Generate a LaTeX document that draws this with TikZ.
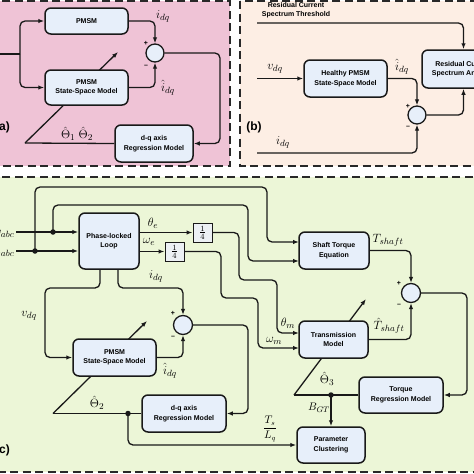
\documentclass[tikz,border=0pt]{standalone}
\usepackage{fontspec}
\setsansfont{Liberation Sans}
\usetikzlibrary{arrows.meta}
\definecolor{pinkbg}{RGB}{239,195,214}
\definecolor{peachbg}{RGB}{253,238,228}
\definecolor{greenbg}{RGB}{236,246,215}
\definecolor{boxblue}{RGB}{231,239,250}
\definecolor{gainfill}{RGB}{236,240,244}
\definecolor{ink}{RGB}{25,25,25}
\definecolor{dashink}{RGB}{40,40,40}
\begin{document}
\begin{tikzpicture}[x=1pt,y=-1pt,
  blk/.style={draw=ink, line width=1.5pt, rounded corners=6pt, fill=boxblue, align=center,
     font=\fontsize{7}{9.5}\selectfont\bfseries\sffamily, inner sep=1pt},
  gain/.style={draw=ink, line width=1pt, fill=gainfill, minimum width=19pt, minimum height=19pt, inner sep=0pt, font=\fontsize{11}{12}\selectfont},
  sumc/.style={circle, draw=ink, line width=1.3pt, fill=boxblue, minimum size=18pt, inner sep=0pt},
  wire/.style={draw=ink, line width=1.3pt, rounded corners=5pt},
  arr/.style={wire, -{Latex[length=6pt,width=4.5pt]}},
  lab/.style={font=\fontsize{12.5}{14}\selectfont, inner sep=0pt},
  sgn/.style={font=\fontsize{7}{8}\selectfont\bfseries\sffamily, inner sep=0pt},
  txt/.style={font=\fontsize{7}{9}\selectfont\bfseries\sffamily, align=center, inner sep=0pt},
  panel/.style={line width=2.4pt, draw=dashink, dash pattern=on 8pt off 4.5pt},
  dotn/.style={circle, fill=ink, minimum size=5.5pt, inner sep=0pt},
  tag/.style={font=\fontsize{12}{14}\selectfont\bfseries\sffamily, inner sep=0pt}
]
\useasboundingbox (0,0) rectangle (474,474);
\fill[white] (0,0) rectangle (474,474);
% ---------------- panels
\filldraw[panel, fill=pinkbg] (-20,1) rectangle (230,166);
\filldraw[panel, fill=peachbg] (240,1) rectangle (500,166);
\filldraw[panel, fill=greenbg] (-20,177) rectangle (500,472);

% ================= panel (a)
\coordinate (diagA0) at (25,143);
\coordinate (diagA1) at (118,52);
\draw[arr, rounded corners=0pt] (diagA0) -- (diagA1);
\node[blk, minimum width=83pt, minimum height=26pt] (pmsmA) at (86.5,21) {PMSM};
\node[blk, minimum width=83pt, minimum height=35pt] (ssA) at (86.5,87.5) {PMSM\\State-Space Model};
\node[sumc] (sumA) at (155,53) {};
\node[blk, minimum width=78pt, minimum height=37pt] (regA) at (154,143.5) {d-q axis\\Regression Model};
\coordinate (inA) at (-2,54);
\coordinate (splitA) at (20,54);
\draw[wire] (inA) -- (splitA);
\draw[arr] (splitA) |- (pmsmA.west);
\draw[arr] (splitA) |- (ssA.west);
\draw[arr] (pmsmA.east) -| (sumA.north);
\draw[arr] (ssA.east) -| (sumA.south);
\draw[arr] (sumA.east) -| (220,143.5) -- (regA.east);
\draw[wire] (regA.west) -- (diagA0);
\node[lab] (laA1) at (163,16) {$i_{dq}$};
\node[lab] (laA2) at (168,88) {$\hat{i}_{dq}$};
\node[sgn] (pA) at (146,43) {+};
\node[sgn] (mA) at (146,66) {--};
\node[lab] (laA3) at (77,134) {$\hat{\Theta}_1\;\hat{\Theta}_2$};
\node[tag, anchor=east] (tagA) at (10,127) {(a)};

% ================= panel (b)
\node[txt] (thr) at (296,10) {Residual Current\\Spectrum Threshold};
\coordinate (thrIn) at (257,23);
\node[blk, minimum width=83pt, minimum height=38pt] (anaB) at (463.5,69) {Residual Current\\Spectrum Analysis};
\node[blk, minimum width=83pt, minimum height=37pt] (hB) at (345.5,78.5) {Healthy PMSM\\State-Space Model};
\node[sumc] (sumB) at (417,115) {};
\coordinate (vB) at (257,78.5);
\coordinate (iB) at (257,153);
\draw[arr] (thrIn) -| (anaB.north);
\draw[arr] (vB) -- (hB.west);
\draw[arr] (hB.east) -| (sumB.north);
\draw[arr] (iB) -| (sumB.south);
\draw[arr] (sumB.east) -| (anaB.south);
\node[lab] (lbB1) at (275,69) {$v_{dq}$};
\node[lab] (lbB2) at (402,67) {$\hat{i}_{dq}$};
\node[lab] (lbB3) at (283,142) {$i_{dq}$};
\node[sgn] (pB) at (408,106) {+};
\node[sgn] (mB) at (408,127) {--};
\node[tag] (tagB) at (254,127) {(b)};

% ================= panel (c)
\coordinate (diagC0) at (53,413.5);
\coordinate (diagC1) at (147,321);
\draw[arr, rounded corners=0pt] (diagC0) -- (diagC1);
\coordinate (diagR0) at (294,395);
\coordinate (diagR1) at (366,299);
\draw[arr, rounded corners=0pt] (diagR0) -- (diagR1);

\node[blk, minimum width=60pt, minimum height=56pt] (pll) at (109,241) {Phase-locked\\Loop};
\node[gain] (g1) at (202.5,232.5) {$\frac{1}{4}$};
\node[gain] (g2) at (174.5,251.5) {$\frac{1}{4}$};
\node[blk, minimum width=70pt, minimum height=37pt] (shaft) at (334,250.5) {Shaft Torque\\Equation};
\node[sumc, minimum size=19pt] (sumR) at (411,293) {};
\node[sumc, minimum size=19pt] (sumL) at (183,325) {};
\node[blk, minimum width=69pt, minimum height=37pt] (tr) at (333.5,339.5) {Transmission\\Model};
\node[blk, minimum width=84pt, minimum height=36pt] (tq) at (401,395) {Torque\\Regression Model};
\node[blk, minimum width=83pt, minimum height=37pt] (ssC) at (114.5,357.5) {PMSM\\State-Space Model};
\node[blk, minimum width=84pt, minimum height=37pt] (rgC) at (184,413.5) {d-q axis\\Regression Model};
\node[blk, minimum width=68pt, minimum height=36pt] (pc) at (331,445) {Parameter\\Clustering};

\coordinate (in1) at (16,232);
\coordinate (in2) at (16,251);
\coordinate (sh1) at (299,242);
\coordinate (sh2) at (299,261);
\coordinate (tr1) at (299,333);
\coordinate (tr2) at (299,348);
\coordinate (pllv) at (100,269);
\coordinate (plli) at (118,269);
\node[dotn] (d1) at (53,232) {};
\node[dotn] (d2) at (35,251) {};
\node[dotn] (dA) at (128,413.5) {};
\node[dotn] (dB) at (331,395) {};

\draw[arr] (in1) -- (pll.west |- in1);
\draw[arr] (in2) -- (pll.west |- in2);
\draw[arr] (d2.center) |- (267,187) |- (sh1);
\draw[arr] (d1.center) |- (248,205) |- (sh2);
\draw[arr] (pll.east |- g1.west) -- (g1.west);
\draw[arr] (pll.east |- g2.west) -- (g2.west);
\draw[arr] (g1.east) -| (239,280) -| (277,333) -- (tr1);
\draw[arr] (g2.east) -| (221,298) -| (258,348) -- (tr2);
\draw[arr] (shaft.east) -| (sumR.north);
\draw[arr] (tr.east) -| (sumR.south);
\draw[arr] (sumR.east) -| (467,395) -- (tq.east);
\draw[wire] (tq.west) -- (diagR0);
\draw[arr] (dB.center) -- (pc.north);
\draw[arr] (pllv) |- (45,288) |- (ssC.west);
\draw[arr] (plli) |- (183,288) -- (sumL.north);
\draw[arr] (ssC.east) -| (sumL.south);
\draw[arr] (sumL.east) -| (248,413.5) -- (rgC.east);
\draw[wire] (rgC.west) -- (diagC0);
\draw[arr] (dA.center) |- (pc.west);

\node[lab, anchor=base east] (lv) at (14.5,235) {$v_{abc}$};
\node[lab, anchor=base east] (li) at (14.5,254) {$i_{abc}$};
\node[lab] (lte) at (153,223) {$\theta_e$};
\node[lab] (lwe) at (149,242) {$\omega_e$};
\node[lab] (lid) at (156,276) {$i_{dq}$};
\node[lab] (lvd) at (29,316) {$v_{dq}$};
\node[lab] (lhid) at (170,371) {$\hat{i}_{dq}$};
\node[sgn] (pL) at (173,313) {+};
\node[sgn] (mL) at (173,337) {--};
\node[lab] (lT2) at (97,403) {$\hat{\Theta}_2$};
\node[lab] (ltm) at (288,323) {$\theta_m$};
\node[lab] (lwm) at (274,341) {$\omega_m$};
\node[lab] (lTs) at (388,240) {$T_{shaft}$};
\node[lab] (lhTs) at (389,326) {$\hat{T}_{shaft}$};
\node[sgn] (pR) at (399,283) {+};
\node[sgn] (mR) at (399,305) {--};
\node[lab] (lT3) at (327,379) {$\hat{\Theta}_3$};
\node[lab, font=\fontsize{11}{13}\selectfont] (lbgt) at (319,408) {$B_{GT}$};
\node[lab, font=\fontsize{10.5}{12}\selectfont] (lfr) at (270,429) {$\displaystyle\frac{T_s}{L_q}$};
\node[tag, anchor=east] (tagC) at (10,450) {(c)};
\end{tikzpicture}
\end{document}
